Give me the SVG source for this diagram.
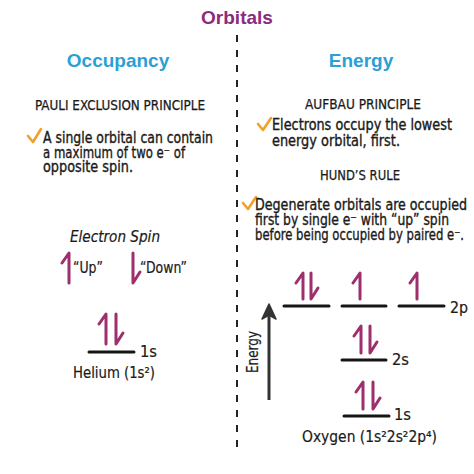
<svg xmlns="http://www.w3.org/2000/svg" width="474" height="474" viewBox="0 0 474 474">
<style>
text{font-family:"Liberation Sans",Arial,sans-serif;fill:#1a1a1a}
.n{font-family:"Liberation Sans Narrow","DejaVu Sans Condensed","Liberation Sans",sans-serif}
.title{font-size:19px;font-weight:bold;fill:#8a2b7e}
.head{font-size:19px;font-weight:bold;fill:#2b9fd6}
.cap{font-size:14px;stroke:#1a1a1a;stroke-width:0.25}
.body{font-size:15.5px;stroke:#1a1a1a;stroke-width:0.35}
.lbl{font-size:16px;stroke:#1a1a1a;stroke-width:0.2}
.harp{fill:none;stroke:#9e2f6c;stroke-width:3;stroke-linecap:round;stroke-linejoin:round}
.level{stroke:#151515;stroke-width:3;stroke-linecap:round}
.check{fill:none;stroke:#f2a02b;stroke-width:2.6;stroke-linecap:round;stroke-linejoin:round}
</style>
<rect width="474" height="474" fill="#fff"/>
<g id="title"><text class="title" x="237" y="24" text-anchor="middle">Orbitals</text></g>
<g id="connectors">
<line x1="237" y1="35" x2="237" y2="454" stroke="#222" stroke-width="2" stroke-dasharray="7 8"/>
<line x1="269" y1="400" x2="269" y2="314" stroke="#333" stroke-width="3"/>
<polygon points="269,304 276,319 269,315 262,319" fill="#333" stroke="#333" stroke-width="1.5" stroke-linejoin="round"/>
</g>
<g id="occupancy">
<text class="head" x="118" y="67" text-anchor="middle">Occupancy</text>
<text class="cap n" x="35" y="110" textLength="170" lengthAdjust="spacingAndGlyphs">PAULI EXCLUSION PRINCIPLE</text>
<path class="check" d="M28,136 L33,142 L41,129"/>
<text class="body n" x="43" y="143" textLength="170" lengthAdjust="spacingAndGlyphs">A single orbital can contain</text>
<text class="body n" x="43" y="158" textLength="142" lengthAdjust="spacingAndGlyphs">a maximum of two e⁻ of</text>
<text class="body n" x="43" y="172" textLength="90" lengthAdjust="spacingAndGlyphs">opposite spin.</text>
</g>
<g id="electron-spin">
<text class="lbl n" x="70" y="242" font-style="italic" textLength="90" lengthAdjust="spacingAndGlyphs">Electron Spin</text>
<path class="harp" d="M69,283 V253 L62,263"/>
<text class="lbl n" x="73" y="273" textLength="30" lengthAdjust="spacingAndGlyphs">“Up”</text>
<path class="harp" d="M133,253 V283 L140,272"/>
<text class="lbl n" x="140" y="273" textLength="47" lengthAdjust="spacingAndGlyphs">“Down”</text>
</g>
<g id="helium">
<path class="harp" d="M106,344 V314 L99,324"/>
<path class="harp" d="M116,314 V344 L123,333"/>
<line class="level" x1="89" y1="352" x2="134" y2="352"/>
<text class="lbl n" x="140" y="357" textLength="17" lengthAdjust="spacingAndGlyphs">1s</text>
<text class="lbl n" x="73" y="378" textLength="82" lengthAdjust="spacingAndGlyphs">Helium (1s²)</text>
</g>
<g id="energy">
<text class="head" x="361" y="67" text-anchor="middle">Energy</text>
<text class="cap n" x="305" y="109" textLength="116" lengthAdjust="spacingAndGlyphs">AUFBAU PRINCIPLE</text>
<path class="check" d="M258,124 L263,130 L271,118"/>
<text class="body n" x="272" y="130" textLength="180" lengthAdjust="spacingAndGlyphs">Electrons occupy the lowest</text>
<text class="body n" x="272" y="146" textLength="128" lengthAdjust="spacingAndGlyphs">energy orbital, first.</text>
<text class="cap n" x="320" y="180" textLength="80" lengthAdjust="spacingAndGlyphs">HUND’S RULE</text>
<path class="check" d="M243,203 L248,209 L256,197"/>
<text class="body n" x="255" y="210" textLength="212" lengthAdjust="spacingAndGlyphs">Degenerate orbitals are occupied</text>
<text class="body n" x="255" y="225" textLength="194" lengthAdjust="spacingAndGlyphs">first by single e⁻ with “up” spin</text>
<text class="body n" x="255" y="240" textLength="209" lengthAdjust="spacingAndGlyphs">before being occupied by paired e⁻.</text>
</g>
<g id="oxygen">
<text class="lbl n" transform="translate(258,352) rotate(-90)" text-anchor="middle" textLength="42" lengthAdjust="spacingAndGlyphs">Energy</text>
<path class="harp" d="M303,299 V273 L296,283"/>
<path class="harp" d="M311,273 V299 L318,288"/>
<path class="harp" d="M360,299 V273 L353,283"/>
<path class="harp" d="M417,299 V273 L410,283"/>
<line class="level" x1="284" y1="306" x2="329" y2="306"/>
<line class="level" x1="342" y1="306" x2="386" y2="306"/>
<line class="level" x1="399" y1="306" x2="444" y2="306"/>
<text class="lbl n" x="450" y="313" textLength="18" lengthAdjust="spacingAndGlyphs">2p</text>
<path class="harp" d="M361,353 V326 L354,336"/>
<path class="harp" d="M370,326 V353 L377,342"/>
<line class="level" x1="342" y1="360" x2="386" y2="360"/>
<text class="lbl n" x="392" y="365" textLength="17" lengthAdjust="spacingAndGlyphs">2s</text>
<path class="harp" d="M363,409 V382 L356,392"/>
<path class="harp" d="M373,382 V409 L380,398"/>
<line class="level" x1="344" y1="416" x2="389" y2="416"/>
<text class="lbl n" x="394" y="420" textLength="17" lengthAdjust="spacingAndGlyphs">1s</text>
<text class="lbl n" x="302" y="442" textLength="135" lengthAdjust="spacingAndGlyphs">Oxygen (1s²2s²2p⁴)</text>
</g>
</svg>
